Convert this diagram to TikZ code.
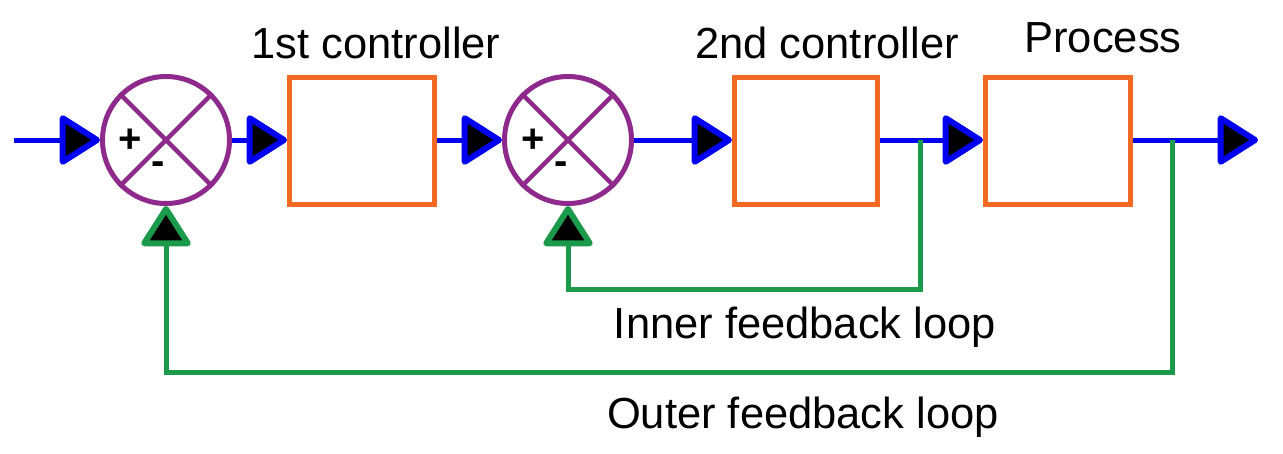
\documentclass[tikz,border=0pt]{standalone}
\usepackage{fontspec}
\setmainfont{Liberation Sans}
\usetikzlibrary{arrows.meta}
\definecolor{sigblue}{HTML}{0000F0}
\definecolor{sumpurple}{HTML}{8E2A8C}
\definecolor{boxorange}{HTML}{F26A21}
\definecolor{fbgreen}{HTML}{1A9A4A}
\tikzset{
  sumnode/.style={circle,draw=sumpurple,line width=5pt,minimum size=127pt,inner sep=0pt},
  blockbox/.style={rectangle,draw=boxorange,line width=5pt,minimum width=145pt,minimum height=127pt,inner sep=0pt},
  tipa/.style={-{Triangle[length=43pt,width=53pt,fill=black,line width=6pt,round]}},
  sigline/.style={draw=sigblue,line width=5pt,tipa},
  fbline/.style={draw=fbgreen,line width=5pt,line join=miter,tipa},
  lbl/.style={font=\fontsize{43.5}{50}\selectfont,inner sep=0pt,anchor=base},
  crossln/.style={draw=sumpurple,line width=4.5pt},
  sign/.style={font=\fontsize{40}{46}\selectfont\bfseries,inner sep=0pt}
}
\begin{document}
\begin{tikzpicture}[x=1pt,y=-1pt]
\useasboundingbox (0,0) rectangle (1283,453);
% summing junctions
\node[sumnode] (s1) at (166,140) {};
\node[sumnode] (s2) at (568,140) {};
\draw[crossln] (s1.north west) -- (s1.south east);
\draw[crossln] (s1.north east) -- (s1.south west);
\draw[crossln] (s2.north west) -- (s2.south east);
\draw[crossln] (s2.north east) -- (s2.south west);
\node[sign] (p1) at (130,141) {+};
\node[sign] (m1) at (158,168) {-};
\node[sign] (p2) at (533,141) {+};
\node[sign] (m2) at (561,168) {-};
% blocks
\node[blockbox] (b1) at (362,141) {};
\node[blockbox,minimum width=143pt] (b2) at (806,141) {};
\node[blockbox] (b3) at (1058,141) {};
% labels
\node[lbl] (l1) at (376,58) {1st controller};
\node[lbl] (l2) at (827,58) {2nd controller};
\node[lbl] (l3) at (1103,52) {Process};
\node[lbl] (l4) at (805,338) {Inner feedback loop};
\node[lbl] (l5) at (803,428) {Outer feedback loop};
% signal path
\coordinate (in) at (14,140);
\coordinate (out) at (1258,140);
\coordinate (br1) at (920,140);
\coordinate (br2) at (1172,140);
\draw[sigline] (in) -- (s1.west);
\draw[sigline] (s1.east) -- (s1.east -| b1.west);
\draw[sigline] (b1.east |- s2.west) -- (s2.west);
\draw[sigline] (s2.east) -- (s2.east -| b2.west);
\draw[sigline] (b2.east |- br1) -- (br1 -| b3.west);
\draw[sigline] (b3.east |- br2) -- (out);
% feedback loops
\draw[fbline] (br1) -- (920,289) -- (568,289) -- (s2.south);
\draw[fbline] (br2) -- (1172,372) -- (166,372) -- (s1.south);
\end{tikzpicture}
\end{document}
